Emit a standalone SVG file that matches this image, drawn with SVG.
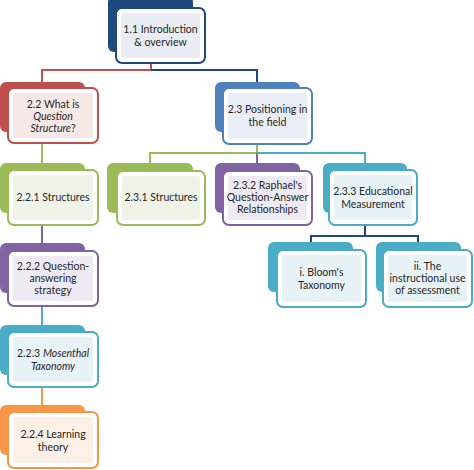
<svg xmlns="http://www.w3.org/2000/svg" width="474" height="470" viewBox="0 0 474 470">
<style>
text{font-family:Lato,"Liberation Sans",sans-serif;font-size:10.5px;fill:#262626;text-anchor:middle}
.it{font-style:italic}
.f{fill:#fff;stroke-width:2}
.c{fill:none;stroke-width:2}
.navy .b{fill:#1f497d}.navy .f{stroke:#1f497d}.navy .t{fill:#e9edf3}
.blue .b{fill:#4f81bd}.blue .f{stroke:#4f81bd}.blue .t{fill:#e9eef6}
.red .b{fill:#c0504d}.red .f{stroke:#c0504d}.red .t{fill:#f7e8e8}
.green .b{fill:#9bbb59}.green .f{stroke:#9bbb59}.green .t{fill:#f0f4e8}
.purple .b{fill:#8064a2}.purple .f{stroke:#8064a2}.purple .t{fill:#eeeaf3}
.teal .b{fill:#4bacc6}.teal .f{stroke:#4bacc6}.teal .t{fill:#e7f3f7}
.orange .b{fill:#f79646}.orange .f{stroke:#f79646}.orange .t{fill:#fdf0e6}
</style>
<g id="connectors">
<path class="c" stroke="#c0504d" d="M151 63V70H42V82"/>
<path class="c" stroke="#1f497d" d="M151 70H257V82"/>
<path class="c" stroke="#9bbb59" d="M42 143V163"/>
<path class="c" stroke="#8064a2" d="M42 225V243"/>
<path class="c" stroke="#4bacc6" d="M42 306V325"/>
<path class="c" stroke="#f79646" d="M42 387V405"/>
<path class="c" stroke="#9bbb59" d="M257 144V153H150V163"/>
<path class="c" stroke="#8064a2" d="M257 153V163"/>
<path class="c" stroke="#4bacc6" d="M257 153H365V163"/>
<path class="c" stroke="#1f497d" d="M365 225V236H311V243M365 236H418V243"/>
</g>
<g id="n1" class="navy">
<rect class="b" x="108" y="-4" width="85" height="56" rx="6"/>
<rect class="f" x="116" y="8" width="89" height="55" rx="6"/>
<rect class="t" x="121" y="13" width="79" height="45" rx="2"/>
<text x="160.5" y="33">1.1 Introduction</text>
<text x="160.5" y="45.5">&amp; overview</text>
</g>
<g id="n22" class="red">
<rect class="b" x="0" y="82" width="85" height="50" rx="6"/>
<rect class="f" x="8" y="88" width="90" height="55" rx="6"/>
<rect class="t" x="13" y="93" width="80" height="45" rx="2"/>
<text x="53" y="107.5">2.2 What is</text>
<text x="53" y="119.5" class="it">Question</text>
<text x="53" y="131.5"><tspan class="it">Structure</tspan>?</text>
</g>
<g id="n221" class="green">
<rect class="b" x="0" y="163" width="85" height="50" rx="6"/>
<rect class="f" x="8" y="170" width="90" height="55" rx="6"/>
<rect class="t" x="13" y="175" width="80" height="45" rx="2"/>
<text x="53" y="201">2.2.1 Structures</text>
</g>
<g id="n222" class="purple">
<rect class="b" x="0" y="243" width="85" height="50" rx="6"/>
<rect class="f" x="8" y="251" width="90" height="55" rx="6"/>
<rect class="t" x="13" y="256" width="80" height="45" rx="2"/>
<text x="53" y="270">2.2.2 Question-</text>
<text x="53" y="282">answering</text>
<text x="53" y="294">strategy</text>
</g>
<g id="n223" class="teal">
<rect class="b" x="0" y="325" width="85" height="50" rx="6"/>
<rect class="f" x="8" y="332" width="90" height="55" rx="6"/>
<rect class="t" x="13" y="337" width="80" height="45" rx="2"/>
<text x="53" y="357">2.2.3 <tspan class="it">Mosenthal</tspan></text>
<text x="53" y="369.5" class="it">Taxonomy</text>
</g>
<g id="n224" class="orange">
<rect class="b" x="0" y="405" width="85" height="50" rx="6"/>
<rect class="f" x="8" y="412" width="90" height="56" rx="6"/>
<rect class="t" x="13" y="417" width="80" height="46" rx="2"/>
<text x="53" y="438">2.2.4 Learning</text>
<text x="53" y="450.5">theory</text>
</g>
<g id="n23" class="blue">
<rect class="b" x="215" y="82" width="85" height="50" rx="6"/>
<rect class="f" x="223" y="88" width="89" height="56" rx="6"/>
<rect class="t" x="228" y="93" width="79" height="46" rx="2"/>
<text x="267.5" y="113">2.3 Positioning in</text>
<text x="267.5" y="125.5">the field</text>
</g>
<g id="n231" class="green">
<rect class="b" x="107" y="163" width="86" height="50" rx="6"/>
<rect class="f" x="117" y="171" width="88" height="54" rx="6"/>
<rect class="t" x="122" y="176" width="78" height="44" rx="2"/>
<text x="161" y="201">2.3.1 Structures</text>
</g>
<g id="n232" class="purple">
<rect class="b" x="215" y="163" width="85" height="50" rx="6"/>
<rect class="f" x="223" y="171" width="89" height="54" rx="6"/>
<rect class="t" x="228" y="176" width="79" height="44" rx="2"/>
<text x="267.5" y="189">2.3.2 Raphael's</text>
<text x="267.5" y="201">Question-Answer</text>
<text x="267.5" y="213">Relationships</text>
</g>
<g id="n233" class="teal">
<rect class="b" x="323" y="163" width="84" height="50" rx="6"/>
<rect class="f" x="329" y="170" width="88" height="55" rx="6"/>
<rect class="t" x="334" y="175" width="78" height="45" rx="2"/>
<text x="373" y="195">2.3.3 Educational</text>
<text x="373" y="207.5">Measurement</text>
</g>
<g id="n2331" class="teal">
<rect class="b" x="268" y="242" width="85" height="50" rx="6"/>
<rect class="f" x="277" y="250" width="89" height="57" rx="6"/>
<rect class="t" x="282" y="255" width="79" height="47" rx="2"/>
<text x="321.5" y="276">i. Bloom's</text>
<text x="321.5" y="288.5">Taxonomy</text>
</g>
<g id="n2332" class="teal">
<rect class="b" x="376" y="242" width="85" height="50" rx="6"/>
<rect class="f" x="383" y="250" width="89" height="57" rx="6"/>
<rect class="t" x="388" y="255" width="79" height="47" rx="2"/>
<text x="427.5" y="270">ii. The</text>
<text x="427.5" y="282">instructional use</text>
<text x="427.5" y="294">of assessment</text>
</g>
</svg>
